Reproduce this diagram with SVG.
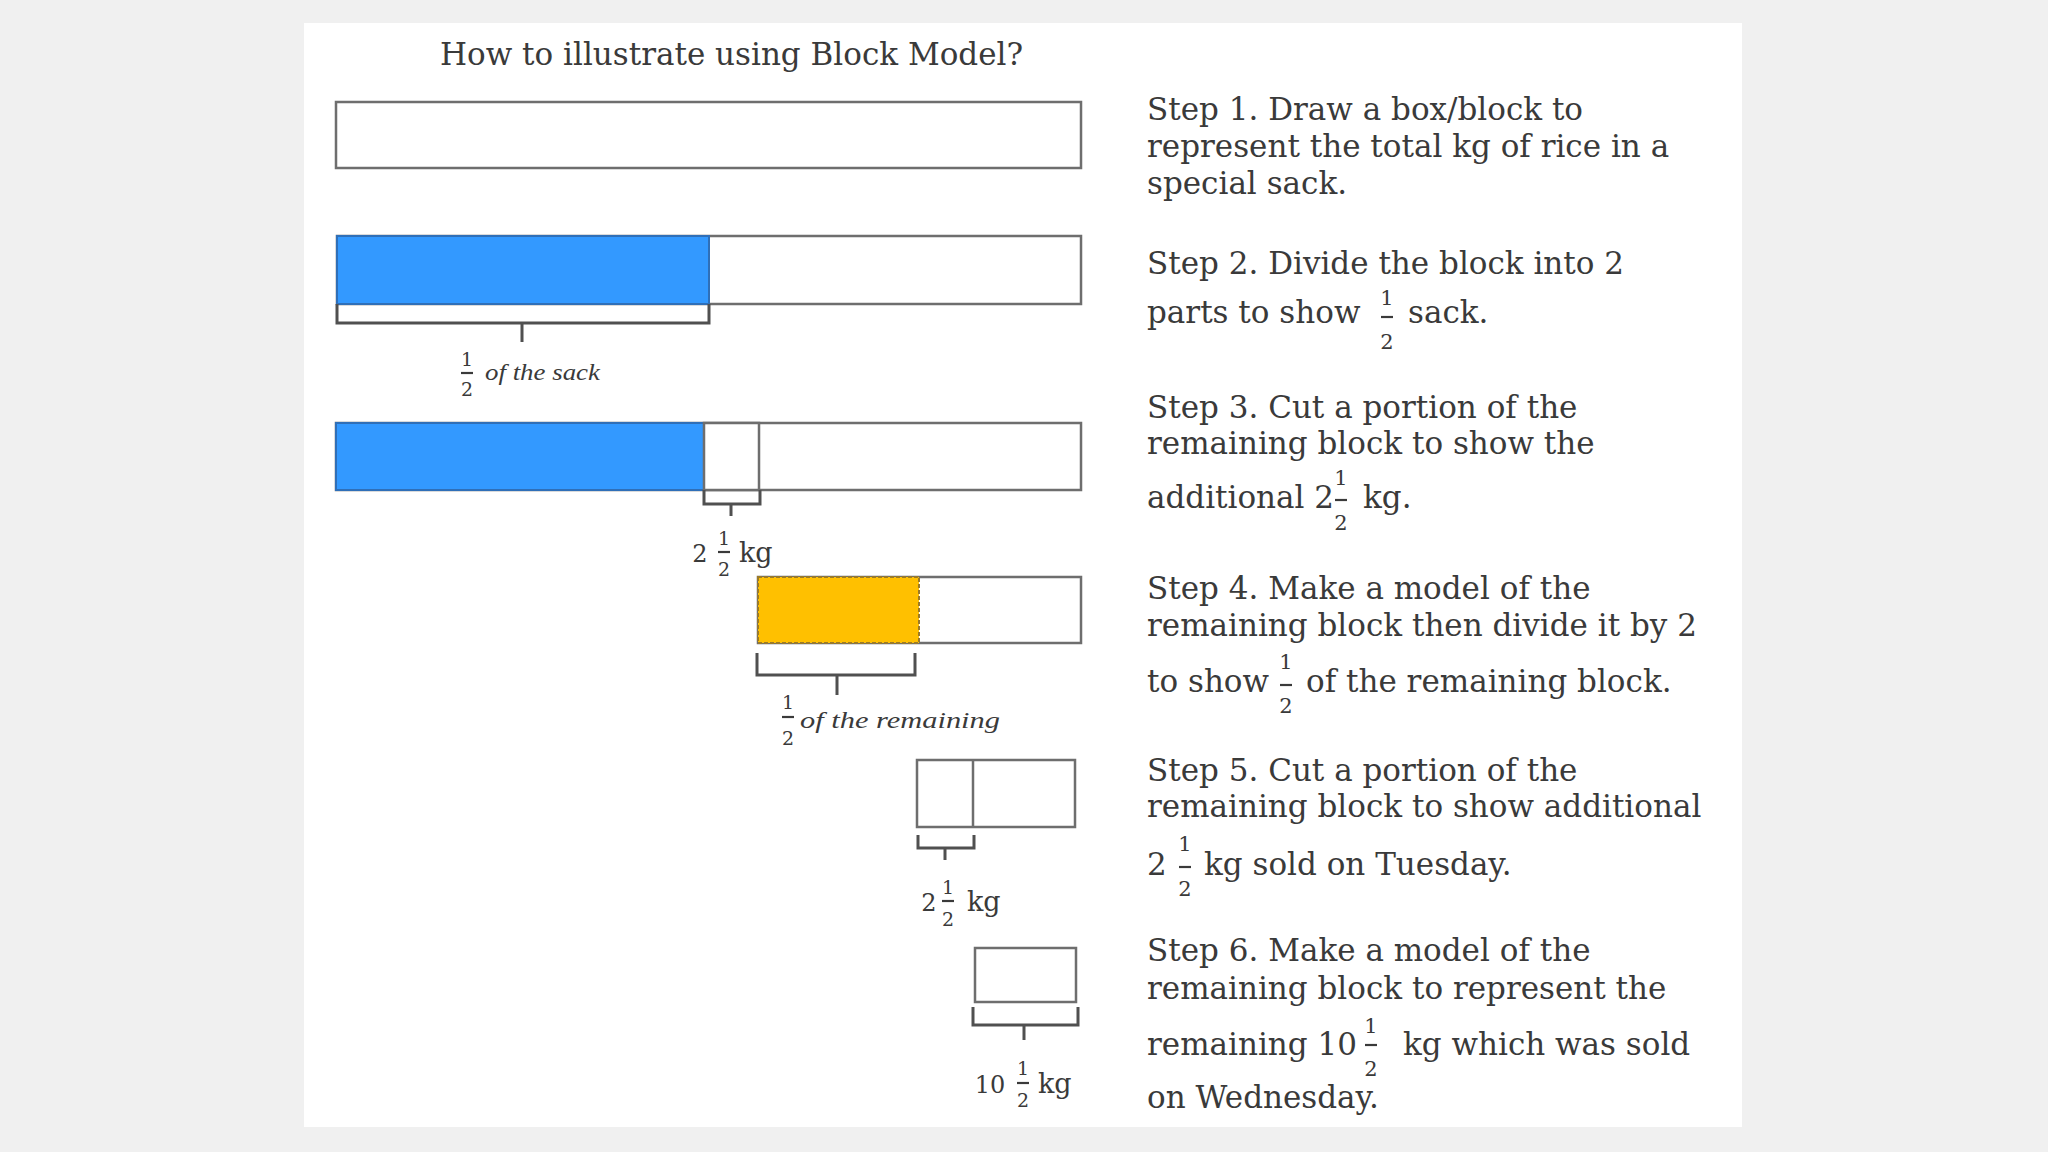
<svg xmlns="http://www.w3.org/2000/svg" width="2048" height="1152" viewBox="0 0 2048 1152">
<style>
.t{font-family:"DejaVu Serif","Liberation Serif",serif;font-size:31px;fill:#3a3a3a}
.fd{font-family:"DejaVu Serif","Liberation Serif",serif;font-size:21px;fill:#3a3a3a;text-anchor:middle}
.ld{font-family:"DejaVu Serif","Liberation Serif",serif;font-size:19px;fill:#3a3a3a;text-anchor:middle}
.num{font-family:"DejaVu Serif",serif;font-size:24px;fill:#3a3a3a}
.kg{font-family:"DejaVu Serif",serif;font-size:27px;fill:#3a3a3a}
.it{font-family:"Liberation Serif","DejaVu Serif",serif;font-style:italic;font-size:24px;fill:#3a3a3a}
.blk{fill:#ffffff;stroke:#6e6e6e;stroke-width:2.5}
.blue{fill:#3399ff;stroke:#2f6fb8;stroke-width:2}
.yel{fill:#ffc000;stroke:#9a7a2a;stroke-width:2;stroke-dasharray:4 2}
.br{fill:none;stroke:#505050;stroke-width:3}
.bar{stroke:#3a3a3a;stroke-width:2.2}
</style>
<rect x="0" y="0" width="2048" height="1152" fill="#f0f0f0"/>
<rect x="304" y="23" width="1438" height="1104" fill="#ffffff"/>

<text class="t" x="440" y="65">How to illustrate using Block Model?</text>

<g id="block1">
<rect class="blk" x="336" y="102" width="745" height="66"/>
</g>

<g id="block2">
<rect class="blk" x="337" y="236" width="744" height="68"/>
<rect class="blue" x="337" y="236" width="372" height="68"/>
<text class="ld" x="467" y="366">1</text>
<line class="bar" x1="461" y1="373" x2="473" y2="373"/>
<text class="ld" x="467" y="396">2</text>
<text class="it" x="485" y="380" textLength="115" lengthAdjust="spacingAndGlyphs">of the sack</text>
</g>

<g id="block3">
<rect class="blk" x="336" y="423" width="745" height="67"/>
<rect class="blue" x="336" y="423" width="368" height="67"/>
<rect class="blk" x="704" y="423" width="55" height="67"/>
<text class="num" x="700" y="562" text-anchor="middle">2</text>
<text class="ld" x="724" y="545">1</text>
<line class="bar" x1="718" y1="552" x2="730" y2="552"/>
<text class="ld" x="724" y="576">2</text>
<text class="kg" x="739" y="562">kg</text>
</g>

<g id="block4">
<rect class="blk" x="758" y="577" width="323" height="66"/>
<rect class="yel" x="758" y="577" width="161" height="66"/>
<text class="ld" x="788" y="709">1</text>
<line class="bar" x1="782" y1="717" x2="794" y2="717"/>
<text class="ld" x="788" y="745">2</text>
<text class="it" x="800" y="728" textLength="200" lengthAdjust="spacingAndGlyphs">of the remaining</text>
</g>

<g id="block5">
<rect class="blk" x="917" y="760" width="158" height="67"/>
<line x1="973" y1="760" x2="973" y2="827" stroke="#6e6e6e" stroke-width="2.5"/>
<text class="num" x="929" y="911" text-anchor="middle">2</text>
<text class="ld" x="948" y="894">1</text>
<line class="bar" x1="942" y1="901" x2="954" y2="901"/>
<text class="ld" x="948" y="926">2</text>
<text class="kg" x="967" y="911">kg</text>
</g>

<g id="block6">
<rect class="blk" x="975" y="948" width="101" height="54"/>
<text class="num" x="990" y="1093" text-anchor="middle">10</text>
<text class="ld" x="1023" y="1075">1</text>
<line class="bar" x1="1017" y1="1083" x2="1029" y2="1083"/>
<text class="ld" x="1023" y="1107">2</text>
<text class="kg" x="1038" y="1093">kg</text>
</g>

<g id="connectors">
<path class="br" d="M337 304 V323 H709 V304 M522 323 V342"/>
<path class="br" d="M704 490 V504 H760 V490 M731 504 V516"/>
<path class="br" d="M757 653 V675 H915 V653 M837 675 V695"/>
<path class="br" d="M918 835 V848 H974 V835 M945 848 V860"/>
<path class="br" d="M973 1007 V1025 H1078 V1007 M1024 1025 V1040"/>
</g>

<g id="step1">
<text class="t" x="1147" y="120">Step 1. Draw a box/block to</text>
<text class="t" x="1147" y="157">represent the total kg of rice in a</text>
<text class="t" x="1147" y="194">special sack.</text>
</g>

<g id="step2">
<text class="t" x="1147" y="274">Step 2. Divide the block into 2</text>
<text class="t" x="1147" y="323">parts to show</text>
<text class="fd" x="1387" y="305">1</text>
<line class="bar" x1="1381" y1="317" x2="1393" y2="317"/>
<text class="fd" x="1387" y="349">2</text>
<text class="t" x="1408" y="323">sack.</text>
</g>

<g id="step3">
<text class="t" x="1147" y="418">Step 3. Cut a portion of the</text>
<text class="t" x="1147" y="454">remaining block to show the</text>
<text class="t" x="1147" y="508">additional 2</text>
<text class="fd" x="1341" y="485">1</text>
<line class="bar" x1="1335" y1="500" x2="1347" y2="500"/>
<text class="fd" x="1341" y="530">2</text>
<text class="t" x="1363" y="508">kg.</text>
</g>

<g id="step4">
<text class="t" x="1147" y="599">Step 4. Make a model of the</text>
<text class="t" x="1147" y="636">remaining block then divide it by 2</text>
<text class="t" x="1147" y="692">to show</text>
<text class="fd" x="1286" y="669">1</text>
<line class="bar" x1="1280" y1="685" x2="1292" y2="685"/>
<text class="fd" x="1286" y="713">2</text>
<text class="t" x="1306" y="692">of the remaining block.</text>
</g>

<g id="step5">
<text class="t" x="1147" y="781">Step 5. Cut a portion of the</text>
<text class="t" x="1147" y="817">remaining block to show additional</text>
<text class="t" x="1147" y="875">2</text>
<text class="fd" x="1185" y="851">1</text>
<line class="bar" x1="1179" y1="867" x2="1191" y2="867"/>
<text class="fd" x="1185" y="896">2</text>
<text class="t" x="1204" y="875">kg sold on Tuesday.</text>
</g>

<g id="step6">
<text class="t" x="1147" y="961">Step 6. Make a model of the</text>
<text class="t" x="1147" y="999">remaining block to represent the</text>
<text class="t" x="1147" y="1055">remaining 10</text>
<text class="fd" x="1371" y="1033">1</text>
<line class="bar" x1="1365" y1="1045" x2="1377" y2="1045"/>
<text class="fd" x="1371" y="1076">2</text>
<text class="t" x="1403" y="1055">kg which was sold</text>
<text class="t" x="1147" y="1108">on Wednesday.</text>
</g>
</svg>
